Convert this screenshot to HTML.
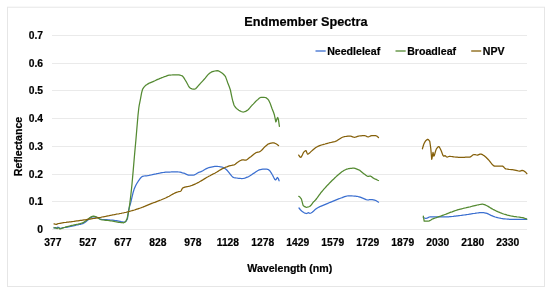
<!DOCTYPE html>
<html><head><meta charset="utf-8"><title>Endmember Spectra</title>
<style>
html,body{margin:0;padding:0;background:#fff;}
svg{display:block;}
text{font-family:"Liberation Sans",Arial,sans-serif;font-weight:bold;fill:#000;stroke:#000;stroke-width:0.2px;}
.t{font-size:10.3px;}
.l{font-size:10.6px;}
.title{font-size:12.7px;}
</style></head><body>
<svg width="550" height="293" viewBox="0 0 550 293">
<rect x="0" y="0" width="550" height="293" fill="#fff"/>
<rect x="7.5" y="7.2" width="537" height="279.3" fill="#fff" stroke="#e6e6e6" stroke-width="1"/>
<line x1="51.5" x2="527" y1="229.5" y2="229.5" stroke="#eaeaea" stroke-width="1" shape-rendering="crispEdges"/>
<line x1="51.5" x2="527" y1="201.5" y2="201.5" stroke="#eaeaea" stroke-width="1" shape-rendering="crispEdges"/>
<line x1="51.5" x2="527" y1="174.5" y2="174.5" stroke="#eaeaea" stroke-width="1" shape-rendering="crispEdges"/>
<line x1="51.5" x2="527" y1="146.5" y2="146.5" stroke="#eaeaea" stroke-width="1" shape-rendering="crispEdges"/>
<line x1="51.5" x2="527" y1="118.5" y2="118.5" stroke="#eaeaea" stroke-width="1" shape-rendering="crispEdges"/>
<line x1="51.5" x2="527" y1="90.5" y2="90.5" stroke="#eaeaea" stroke-width="1" shape-rendering="crispEdges"/>
<line x1="51.5" x2="527" y1="63.5" y2="63.5" stroke="#eaeaea" stroke-width="1" shape-rendering="crispEdges"/>
<line x1="51.5" x2="527" y1="35.5" y2="35.5" stroke="#eaeaea" stroke-width="1" shape-rendering="crispEdges"/>

<path d="M54.0 227.5 L55.2 228.1 L56.0 228.2 L56.4 228.1 L57.6 227.3 L58.0 227.2 L58.8 227.6 L60.0 228.4 L60.0 228.4 L61.2 228.2 L62.0 228.0 L62.4 227.9 L63.6 227.7 L64.8 227.5 L66.0 227.3 L67.2 227.1 L68.4 226.8 L69.6 226.6 L69.6 226.6 L70.8 226.4 L72.0 226.1 L73.2 225.8 L74.4 225.6 L75.6 225.3 L76.0 225.2 L76.8 225.0 L78.0 224.8 L79.2 224.5 L80.4 224.3 L81.6 224.0 L82.7 223.6 L82.8 223.6 L84.0 223.0 L85.2 222.2 L86.4 221.2 L87.6 220.3 L87.6 220.3 L88.8 219.2 L90.0 218.1 L90.5 217.8 L91.2 217.4 L92.4 216.8 L93.4 216.6 L93.6 216.6 L94.8 216.8 L96.0 217.1 L96.5 217.2 L97.2 217.5 L98.4 218.1 L99.6 218.8 L100.7 219.2 L100.8 219.2 L102.0 219.4 L103.2 219.5 L104.4 219.6 L105.0 219.6 L105.6 219.6 L106.8 219.7 L108.0 219.8 L109.2 219.9 L110.4 220.0 L110.6 220.0 L111.6 220.1 L112.8 220.2 L114.0 220.4 L115.2 220.6 L116.4 220.7 L117.6 220.9 L118.8 221.1 L118.8 221.1 L120.0 221.3 L121.2 221.6 L122.4 221.8 L123.6 222.0 L124.5 222.0 L124.8 222.0 L126.0 221.3 L126.3 221.0 L127.2 219.3 L127.6 218.0 L128.4 211.6 L128.5 211.0 L129.6 206.4 L130.7 202.7 L130.8 202.3 L132.0 197.2 L133.2 192.2 L134.0 189.6 L134.4 188.6 L135.6 185.8 L136.8 183.5 L138.0 181.6 L138.1 181.4 L139.2 179.8 L140.4 178.2 L140.8 177.8 L141.6 176.9 L142.3 176.4 L142.8 176.3 L144.0 176.0 L145.2 175.9 L146.4 175.8 L147.6 175.7 L148.0 175.6 L148.8 175.5 L150.0 175.2 L151.2 175.0 L152.4 174.7 L153.6 174.4 L154.8 174.1 L156.0 173.9 L157.2 173.6 L157.8 173.5 L158.4 173.4 L159.6 173.2 L160.8 172.9 L162.0 172.7 L163.2 172.5 L164.4 172.3 L165.6 172.1 L166.8 172.0 L167.6 172.0 L168.0 172.0 L169.2 172.0 L170.4 172.0 L171.6 171.9 L172.8 171.9 L174.0 171.9 L175.2 171.9 L176.4 171.9 L177.5 171.9 L177.6 171.9 L178.8 172.0 L180.0 172.2 L181.2 172.4 L182.4 172.8 L183.6 173.1 L184.0 173.2 L184.8 173.5 L186.0 174.1 L187.2 174.7 L188.4 175.2 L188.9 175.2 L189.6 175.2 L190.8 175.2 L192.0 175.2 L193.0 175.2 L193.2 175.2 L194.4 174.9 L195.6 174.3 L196.8 173.5 L198.0 172.8 L198.8 172.4 L199.2 172.2 L200.4 171.8 L201.6 171.3 L202.0 171.1 L202.8 170.7 L204.0 170.0 L205.2 169.3 L206.4 168.6 L207.6 168.1 L207.9 168.0 L208.8 167.7 L210.0 167.4 L211.2 167.1 L212.4 166.8 L213.6 166.6 L214.8 166.4 L215.8 166.4 L216.0 166.4 L217.2 166.4 L218.4 166.5 L219.6 166.7 L220.8 166.8 L221.8 167.0 L222.0 167.0 L223.2 167.5 L224.4 168.1 L225.6 168.9 L225.7 169.0 L226.8 170.0 L228.0 171.4 L229.2 172.9 L229.7 173.5 L230.4 174.3 L231.6 175.9 L232.8 177.1 L233.6 177.5 L234.0 177.6 L235.2 177.8 L236.4 178.0 L237.6 178.2 L238.8 178.3 L240.0 178.4 L241.2 178.5 L242.4 178.5 L242.5 178.5 L243.6 178.4 L244.8 178.1 L246.0 177.7 L247.2 177.2 L247.5 177.1 L248.4 176.7 L249.6 176.0 L250.8 175.2 L252.0 174.4 L253.2 173.6 L253.4 173.5 L254.4 172.9 L255.6 172.0 L256.8 171.2 L258.0 170.5 L259.2 169.9 L260.3 169.6 L260.4 169.6 L261.6 169.4 L262.8 169.2 L264.0 169.1 L265.2 169.0 L266.3 169.0 L266.4 169.0 L267.6 169.3 L268.8 169.9 L269.2 170.2 L270.0 171.0 L271.2 172.9 L272.2 174.5 L272.4 174.8 L273.6 177.2 L274.8 179.4 L275.6 179.9 L276.0 179.6 L277.2 177.7 L277.5 177.5 L278.4 178.7 L279.1 180.8 M299.0 208.0 L300.2 209.5 L301.4 210.8 L302.0 211.3 L302.6 211.7 L303.8 212.5 L305.0 213.2 L306.2 213.5 L306.4 213.5 L307.4 213.2 L308.6 212.7 L308.6 212.7 L309.7 213.3 L309.8 213.3 L311.0 213.0 L312.2 212.3 L313.4 211.3 L314.6 210.1 L315.8 209.1 L317.0 208.2 L317.3 208.0 L318.2 207.5 L319.4 206.9 L320.6 206.3 L321.8 205.8 L323.0 205.3 L324.2 204.8 L325.4 204.3 L326.6 203.8 L327.8 203.3 L328.3 203.1 L329.0 202.8 L330.2 202.3 L331.4 201.8 L332.6 201.3 L333.8 200.8 L335.0 200.3 L336.2 199.8 L337.4 199.3 L338.6 198.9 L339.2 198.7 L339.8 198.5 L341.0 198.0 L342.2 197.6 L343.4 197.1 L344.6 196.7 L345.8 196.3 L347.0 196.0 L348.2 195.8 L349.1 195.8 L349.4 195.8 L350.6 195.8 L351.8 195.9 L353.0 196.0 L354.2 196.1 L355.4 196.2 L356.6 196.3 L357.3 196.4 L357.8 196.5 L359.0 196.8 L360.2 197.2 L361.4 197.7 L362.6 198.2 L362.7 198.2 L363.8 198.6 L365.0 199.1 L366.2 199.6 L367.4 199.9 L368.2 200.0 L368.6 199.9 L369.8 199.5 L370.0 199.5 L371.0 199.5 L372.2 199.6 L373.4 199.8 L374.6 200.1 L375.8 200.5 L377.0 201.2 L378.2 202.0 L378.5 202.2 M423.3 217.5 L424.5 218.0 L425.7 218.3 L425.9 218.3 L426.9 218.1 L428.1 217.6 L429.3 217.0 L430.3 216.8 L430.5 216.8 L431.7 216.8 L432.9 216.8 L434.1 216.8 L435.3 216.8 L436.5 216.8 L436.8 216.8 L437.7 216.8 L438.9 216.8 L440.1 216.8 L441.3 216.8 L442.5 216.8 L443.7 216.8 L444.9 216.8 L446.1 216.8 L447.3 216.8 L447.7 216.8 L448.5 216.8 L449.7 216.7 L450.9 216.6 L452.1 216.5 L453.3 216.4 L454.5 216.2 L455.7 216.1 L456.9 215.9 L458.1 215.8 L458.6 215.7 L459.3 215.6 L460.5 215.5 L461.7 215.3 L462.9 215.1 L464.1 215.0 L465.3 214.8 L466.5 214.6 L467.7 214.5 L468.9 214.3 L469.5 214.2 L470.1 214.1 L471.3 213.9 L472.5 213.7 L473.7 213.5 L474.9 213.4 L476.1 213.2 L477.3 213.0 L478.3 212.9 L478.5 212.9 L479.7 212.7 L480.9 212.6 L482.1 212.5 L482.6 212.5 L483.3 212.5 L484.5 212.8 L485.7 213.1 L485.9 213.1 L486.9 213.4 L488.1 213.9 L489.3 214.5 L490.5 215.1 L491.7 215.7 L492.9 216.2 L493.5 216.4 L494.1 216.6 L495.3 217.0 L496.5 217.3 L497.7 217.7 L498.9 218.0 L500.1 218.2 L501.3 218.5 L502.3 218.6 L502.5 218.6 L503.7 218.8 L504.9 218.9 L506.1 219.0 L507.3 219.1 L508.5 219.2 L509.7 219.3 L510.9 219.4 L512.1 219.4 L513.2 219.4 L513.3 219.4 L514.5 219.4 L515.7 219.4 L516.9 219.4 L518.1 219.4 L519.3 219.4 L520.5 219.4 L521.7 219.4 L522.9 219.4 L524.1 219.4 L525.3 219.4 L526.5 219.4 L526.7 219.4" fill="none" stroke="#3b6fd0" stroke-width="1.25" stroke-linejoin="round" stroke-linecap="round"/>
<path d="M54.0 228.0 L55.2 227.6 L55.5 227.6 L56.4 228.2 L57.0 228.6 L57.6 228.3 L58.5 227.8 L58.8 227.9 L60.0 229.0 L60.0 229.0 L61.2 228.6 L61.4 228.5 L62.4 228.1 L63.6 227.6 L64.0 227.5 L64.8 227.3 L66.0 226.9 L67.2 226.6 L68.4 226.3 L69.6 226.0 L69.6 226.0 L70.8 225.7 L72.0 225.4 L73.2 225.2 L74.4 224.9 L75.6 224.6 L76.0 224.5 L76.8 224.3 L78.0 224.1 L79.2 223.8 L80.4 223.5 L81.6 223.2 L82.7 222.8 L82.8 222.8 L84.0 222.1 L85.2 221.3 L86.4 220.4 L87.6 219.5 L87.6 219.5 L88.8 218.5 L90.0 217.6 L90.5 217.3 L91.2 216.9 L92.4 216.4 L93.4 216.2 L93.6 216.2 L94.8 216.4 L96.0 216.8 L96.5 217.0 L97.2 217.3 L98.4 218.2 L99.6 219.0 L100.7 219.5 L100.8 219.5 L102.0 219.8 L103.2 220.0 L104.4 220.1 L105.0 220.2 L105.6 220.3 L106.8 220.4 L108.0 220.5 L109.2 220.6 L110.4 220.8 L110.6 220.8 L111.6 221.0 L112.8 221.2 L114.0 221.4 L115.2 221.7 L116.4 221.9 L117.6 222.1 L118.8 222.3 L118.8 222.3 L120.0 222.5 L121.2 222.6 L122.4 222.7 L123.6 222.8 L123.7 222.8 L124.8 222.2 L125.5 221.5 L126.0 220.8 L127.0 218.7 L127.2 218.1 L128.4 212.6 L128.7 211.0 L129.6 205.0 L129.6 205.0 L130.8 195.3 L131.6 188.0 L132.0 184.0 L133.2 170.6 L134.4 156.5 L134.8 152.0 L135.6 143.3 L135.9 140.0 L136.8 129.3 L138.0 115.2 L138.8 108.0 L139.2 105.4 L140.4 99.3 L140.4 99.3 L141.6 92.8 L142.5 89.5 L142.8 88.9 L144.0 87.1 L145.2 85.8 L146.1 85.1 L146.4 84.9 L147.6 84.1 L148.8 83.4 L150.0 82.8 L151.2 82.3 L152.4 81.8 L153.6 81.3 L154.3 81.0 L154.8 80.8 L156.0 80.2 L157.2 79.7 L158.4 79.2 L159.6 78.6 L160.8 78.2 L162.0 77.7 L162.5 77.5 L163.2 77.2 L164.4 76.7 L165.6 76.3 L166.8 75.8 L168.0 75.4 L169.2 75.2 L169.9 75.1 L170.4 75.1 L171.6 75.0 L172.8 74.9 L174.0 74.9 L175.2 74.8 L176.4 74.8 L177.3 74.8 L177.6 74.8 L178.8 74.9 L180.0 75.2 L181.2 75.5 L182.2 75.9 L182.4 76.0 L183.6 77.4 L184.8 79.4 L185.5 80.5 L186.0 81.3 L187.2 83.5 L188.4 85.8 L189.6 87.6 L190.4 88.2 L190.8 88.4 L192.0 88.8 L193.2 89.1 L194.4 89.2 L194.5 89.2 L195.6 88.7 L196.8 87.5 L198.0 86.1 L198.6 85.4 L199.2 84.8 L200.4 83.4 L201.6 82.1 L201.6 82.1 L202.8 80.8 L204.0 79.5 L205.0 78.4 L205.2 78.2 L206.4 76.7 L207.6 75.2 L208.8 73.9 L209.8 73.1 L210.0 73.0 L211.2 72.2 L212.4 71.7 L213.5 71.3 L213.6 71.3 L214.8 71.0 L216.0 70.8 L217.1 70.7 L217.2 70.7 L218.4 70.9 L219.6 71.5 L220.8 72.3 L222.0 73.1 L222.0 73.1 L223.2 74.0 L224.4 75.2 L225.3 76.4 L225.6 76.9 L226.8 80.1 L227.8 83.0 L228.0 83.5 L229.2 86.5 L230.4 90.0 L230.4 90.0 L231.6 95.8 L232.3 99.1 L232.8 101.0 L234.0 105.0 L234.3 105.6 L235.2 107.0 L236.4 108.4 L236.9 108.8 L237.6 109.3 L238.8 110.2 L240.0 110.9 L241.2 111.5 L242.4 111.9 L243.3 112.0 L243.6 112.0 L244.8 111.7 L246.0 111.1 L247.2 110.4 L247.2 110.4 L248.4 109.5 L249.6 108.2 L250.8 106.7 L252.0 105.3 L252.4 104.9 L253.2 104.1 L254.4 102.8 L255.6 101.5 L256.8 100.4 L257.6 99.7 L258.0 99.4 L259.2 98.3 L260.4 97.5 L260.9 97.4 L261.6 97.4 L262.8 97.4 L264.0 97.4 L265.2 97.5 L265.4 97.5 L266.4 97.9 L267.6 98.9 L268.6 100.1 L268.8 100.4 L270.0 102.9 L271.2 106.3 L271.9 108.2 L272.4 109.4 L273.6 112.5 L274.5 115.3 L274.8 116.8 L275.8 121.8 L276.0 121.7 L277.2 118.2 L277.7 117.5 L278.4 119.3 L279.4 126.3 M298.7 196.3 L299.9 197.0 L301.1 198.6 L301.5 199.3 L302.3 202.4 L303.1 205.3 L303.5 205.7 L304.7 206.7 L305.9 207.2 L306.4 207.3 L307.1 207.2 L308.3 207.0 L309.5 206.5 L309.7 206.4 L310.7 205.6 L311.9 204.0 L313.1 202.4 L313.6 201.8 L314.3 201.2 L315.1 200.4 L315.5 200.0 L316.7 198.5 L317.9 196.8 L319.1 195.1 L320.3 193.5 L320.9 192.7 L321.5 192.0 L322.7 190.6 L323.9 189.2 L325.1 187.8 L326.3 186.5 L327.5 185.2 L328.2 184.5 L328.7 184.0 L329.9 182.7 L331.1 181.5 L332.3 180.3 L333.5 179.2 L334.7 178.0 L335.5 177.3 L335.9 176.9 L337.1 175.8 L338.3 174.7 L339.5 173.7 L340.7 172.7 L341.9 171.8 L342.7 171.3 L343.1 171.1 L344.3 170.3 L345.5 169.7 L346.7 169.1 L347.9 168.8 L348.2 168.7 L349.1 168.6 L350.3 168.4 L351.5 168.3 L352.7 168.2 L353.6 168.2 L353.9 168.2 L355.1 168.4 L356.3 168.8 L357.5 169.3 L358.7 169.8 L359.1 170.0 L359.9 170.4 L361.1 171.4 L362.3 172.4 L363.5 173.4 L364.5 174.2 L364.7 174.3 L365.9 175.3 L367.1 176.1 L368.2 176.4 L368.3 176.4 L369.5 176.1 L370.0 176.0 L370.7 176.2 L371.9 176.9 L373.1 177.9 L373.6 178.2 L374.3 178.6 L375.5 179.2 L376.7 179.7 L377.9 180.3 L378.5 180.5 M423.3 216.2 L424.2 221.2 L424.5 221.2 L425.7 221.2 L426.9 221.2 L428.1 221.2 L428.1 221.2 L429.3 220.9 L430.5 220.2 L431.7 219.4 L432.5 219.0 L432.9 218.8 L434.1 218.4 L435.3 218.0 L436.5 217.6 L436.8 217.5 L437.7 217.2 L438.9 216.7 L440.1 216.3 L441.3 215.9 L442.5 215.4 L443.4 215.1 L443.7 215.0 L444.9 214.5 L446.1 214.1 L447.3 213.6 L448.5 213.2 L449.7 212.7 L450.9 212.2 L452.1 211.8 L453.3 211.3 L454.5 210.9 L455.7 210.5 L456.9 210.1 L458.1 209.7 L458.6 209.6 L459.3 209.4 L460.5 209.1 L461.7 208.8 L462.9 208.5 L464.1 208.2 L465.3 208.0 L466.5 207.7 L467.7 207.4 L468.9 207.1 L469.5 207.0 L470.1 206.9 L471.3 206.5 L472.5 206.2 L473.7 205.9 L474.9 205.6 L476.1 205.3 L477.3 205.0 L478.3 204.8 L478.5 204.8 L479.7 204.5 L480.9 204.3 L482.1 204.2 L482.6 204.2 L483.3 204.3 L484.5 204.7 L485.7 205.2 L485.9 205.3 L486.9 205.8 L488.1 206.4 L489.3 207.1 L490.5 207.9 L491.7 208.6 L492.9 209.3 L493.5 209.6 L494.1 209.9 L495.3 210.5 L496.5 211.1 L497.7 211.6 L498.9 212.2 L500.1 212.7 L501.3 213.1 L502.3 213.5 L502.5 213.6 L503.7 214.0 L504.9 214.3 L506.1 214.7 L507.3 215.1 L508.5 215.4 L509.7 215.7 L510.9 216.0 L512.1 216.2 L513.2 216.4 L513.3 216.4 L514.5 216.6 L515.7 216.7 L516.9 216.9 L518.1 217.0 L519.3 217.1 L520.5 217.3 L521.7 217.5 L521.9 217.5 L522.9 217.7 L524.1 218.1 L525.3 218.5 L526.5 218.9 L526.7 219.0" fill="none" stroke="#548a32" stroke-width="1.25" stroke-linejoin="round" stroke-linecap="round"/>
<path d="M54.0 223.9 L55.2 224.2 L56.0 224.3 L56.4 224.3 L57.6 223.8 L58.0 223.7 L58.8 223.5 L60.0 223.3 L61.2 223.1 L62.4 222.9 L63.6 222.7 L64.8 222.5 L66.0 222.4 L67.2 222.2 L68.4 222.1 L69.6 221.9 L70.8 221.8 L72.0 221.6 L73.2 221.5 L74.4 221.3 L75.0 221.2 L75.6 221.1 L76.8 220.9 L78.0 220.8 L79.2 220.6 L80.4 220.4 L81.6 220.3 L82.8 220.1 L84.0 219.9 L85.2 219.8 L86.4 219.6 L87.6 219.4 L88.8 219.2 L90.0 219.1 L91.2 218.9 L92.4 218.7 L93.6 218.5 L94.2 218.4 L94.8 218.3 L96.0 218.1 L97.2 217.9 L98.4 217.7 L99.6 217.5 L100.8 217.3 L102.0 217.0 L103.2 216.8 L104.4 216.6 L105.6 216.4 L106.8 216.1 L108.0 215.9 L109.2 215.7 L110.4 215.4 L111.6 215.2 L112.8 214.9 L114.0 214.7 L115.0 214.5 L115.2 214.5 L116.4 214.2 L117.6 214.0 L118.8 213.8 L120.0 213.5 L121.2 213.3 L122.4 213.0 L123.6 212.8 L124.8 212.5 L126.0 212.3 L127.2 212.0 L128.3 211.7 L128.4 211.7 L129.6 211.4 L130.8 211.0 L132.0 210.7 L133.2 210.3 L134.4 210.0 L135.6 209.6 L136.8 209.2 L138.0 208.8 L139.2 208.4 L140.4 208.0 L141.4 207.6 L141.6 207.5 L142.8 207.1 L144.0 206.6 L145.2 206.2 L146.4 205.7 L147.6 205.2 L148.8 204.7 L150.0 204.2 L151.2 203.7 L152.4 203.2 L152.9 203.0 L153.6 202.7 L154.8 202.3 L156.0 201.8 L157.2 201.3 L158.4 200.9 L159.6 200.4 L160.8 200.0 L162.0 199.5 L163.2 199.0 L164.4 198.5 L165.6 198.0 L166.0 197.8 L166.8 197.4 L168.0 196.8 L169.2 196.2 L170.4 195.5 L171.6 194.8 L172.8 194.1 L174.0 193.5 L175.2 192.9 L176.4 192.4 L177.5 192.0 L177.6 192.0 L178.8 191.7 L180.0 191.5 L180.7 191.2 L181.2 190.6 L182.4 188.3 L182.7 188.0 L183.6 187.6 L184.8 187.1 L186.0 186.8 L187.2 186.6 L188.4 186.4 L189.6 186.1 L190.6 185.8 L190.8 185.7 L192.0 185.3 L193.2 184.8 L194.4 184.3 L195.6 183.8 L196.8 183.2 L198.0 182.6 L198.8 182.2 L199.2 182.0 L200.4 181.3 L201.6 180.6 L202.8 179.9 L204.0 179.1 L205.2 178.4 L206.4 177.6 L207.0 177.3 L207.6 177.0 L208.8 176.3 L210.0 175.7 L211.2 175.0 L212.4 174.4 L213.6 173.8 L214.8 173.2 L216.0 172.5 L216.9 172.0 L217.2 171.8 L218.4 171.1 L219.6 170.3 L220.8 169.6 L222.0 168.9 L222.8 168.5 L223.2 168.3 L224.4 167.8 L225.6 167.2 L226.8 166.8 L228.0 166.3 L229.2 165.9 L229.3 165.9 L230.4 165.6 L231.6 165.4 L232.8 165.1 L234.0 164.8 L234.5 164.6 L235.2 164.2 L236.4 163.2 L237.6 162.3 L237.7 162.2 L238.8 161.5 L240.0 160.8 L241.2 160.2 L242.4 159.8 L242.9 159.8 L243.6 159.9 L244.8 160.1 L245.5 160.2 L246.0 160.1 L247.2 159.5 L248.4 158.6 L249.6 157.6 L250.0 157.3 L250.8 156.7 L252.0 155.7 L253.2 154.7 L254.4 153.7 L255.6 152.9 L256.5 152.5 L256.8 152.4 L258.0 152.1 L259.2 151.8 L259.7 151.6 L260.4 151.2 L261.0 150.8 L261.6 150.3 L262.8 149.0 L264.0 147.6 L264.9 146.7 L265.2 146.4 L266.4 145.4 L267.6 144.4 L268.8 143.8 L268.8 143.8 L270.0 143.4 L271.2 143.1 L272.4 142.9 L273.4 142.8 L273.6 142.8 L274.8 143.2 L276.0 143.8 L276.0 143.8 L277.2 144.5 L278.4 145.4 L278.6 145.6 M298.7 155.1 L299.9 156.9 L300.9 157.3 L301.1 157.2 L302.3 155.1 L303.5 152.5 L303.6 152.4 L304.7 151.2 L305.9 150.5 L306.0 150.5 L307.1 153.3 L307.6 154.2 L308.3 154.0 L309.5 153.1 L310.7 151.9 L311.8 150.9 L311.9 150.8 L313.1 149.8 L314.3 148.8 L315.5 147.8 L316.7 147.0 L317.3 146.7 L317.9 146.4 L319.1 145.9 L320.3 145.4 L321.5 145.0 L322.7 144.7 L323.9 144.3 L325.1 144.0 L326.3 143.6 L326.4 143.6 L327.5 143.3 L328.7 143.0 L329.9 142.7 L331.1 142.5 L332.3 142.2 L333.5 141.9 L334.7 141.6 L335.5 141.3 L335.9 141.1 L337.1 140.6 L338.3 139.8 L339.5 139.0 L340.7 138.2 L341.9 137.5 L343.1 137.0 L343.6 136.9 L344.3 136.7 L345.5 136.5 L346.7 136.3 L347.9 136.1 L349.1 136.0 L350.0 136.0 L350.3 136.0 L351.5 136.3 L352.7 136.8 L353.9 137.2 L354.5 137.3 L355.1 137.2 L356.3 136.9 L357.5 136.4 L358.7 136.1 L359.1 136.0 L359.9 135.9 L361.1 135.8 L362.3 135.7 L363.5 135.6 L364.5 135.6 L364.7 135.6 L365.9 136.0 L367.1 136.6 L368.2 136.9 L368.3 136.9 L369.5 136.5 L370.7 135.9 L371.8 135.6 L371.9 135.6 L373.1 135.6 L374.3 135.6 L375.5 135.6 L375.5 135.6 L376.7 136.0 L377.9 137.0 L378.5 137.5 M422.4 148.8 L423.6 144.7 L424.3 143.1 L424.8 142.2 L426.0 140.4 L427.2 139.4 L427.6 139.3 L428.4 139.6 L429.6 141.1 L429.8 141.5 L430.8 148.6 L430.8 148.6 L431.7 159.3 L432.0 158.4 L433.0 152.4 L433.2 153.0 L433.8 156.2 L434.4 155.3 L435.6 151.0 L436.3 149.1 L436.8 148.4 L438.0 146.9 L438.8 146.6 L439.2 146.8 L440.4 149.0 L441.2 150.8 L441.6 151.7 L442.8 155.1 L443.6 156.2 L444.0 156.1 L445.0 155.7 L445.2 155.7 L446.4 156.7 L447.2 157.1 L447.6 157.0 L448.8 156.5 L449.4 156.4 L450.0 156.4 L451.2 156.5 L452.4 156.6 L453.6 156.8 L454.8 157.0 L456.0 157.1 L457.2 157.2 L458.4 157.3 L458.7 157.3 L459.6 157.3 L460.8 157.3 L462.0 157.3 L463.2 157.3 L464.4 157.3 L465.6 157.2 L466.8 157.2 L468.0 157.2 L469.2 157.1 L469.6 157.1 L470.4 156.9 L471.6 156.0 L472.8 155.0 L474.0 154.5 L474.0 154.5 L475.2 154.7 L476.4 155.0 L477.3 155.1 L477.6 155.1 L478.8 154.6 L480.0 154.1 L480.6 154.0 L481.2 154.1 L482.4 154.6 L483.6 155.4 L483.9 155.6 L484.8 156.3 L486.0 157.3 L487.2 158.5 L488.2 159.5 L488.4 159.7 L489.6 161.1 L490.8 162.7 L492.0 164.2 L493.2 165.4 L494.4 166.1 L494.8 166.1 L495.6 166.1 L496.8 166.1 L498.0 166.1 L499.2 166.1 L500.4 166.1 L501.6 166.1 L502.4 166.1 L502.8 166.2 L504.0 167.3 L505.2 168.6 L505.7 168.9 L506.4 169.0 L507.6 169.2 L508.8 169.4 L510.0 169.5 L511.2 169.6 L512.4 169.7 L513.4 169.8 L513.6 169.8 L514.8 170.1 L516.0 170.4 L517.2 170.7 L518.4 171.0 L519.6 171.1 L519.9 171.1 L520.8 170.8 L522.0 170.4 L522.1 170.4 L523.2 170.6 L524.4 171.2 L525.6 172.2 L526.8 173.6 L526.9 173.7" fill="none" stroke="#85600a" stroke-width="1.25" stroke-linejoin="round" stroke-linecap="round"/>

<text x="305.9" y="25.5" text-anchor="middle" class="title">Endmember Spectra</text>
<line x1="315.5" x2="325.7" y1="51" y2="51" stroke="#3b6fd0" stroke-width="1.3"/>
<text x="327.2" y="54.7" class="l">Needleleaf</text>
<line x1="395.5" x2="405.7" y1="51" y2="51" stroke="#548a32" stroke-width="1.3"/>
<text x="407.2" y="54.7" class="l">Broadleaf</text>
<line x1="471.2" x2="481.2" y1="51" y2="51" stroke="#85600a" stroke-width="1.3"/>
<text x="482.8" y="54.7" class="l">NPV</text>
<text x="43" y="233.0" text-anchor="end" class="t">0</text>
<text x="43" y="205.3" text-anchor="end" class="t">0.1</text>
<text x="43" y="177.6" text-anchor="end" class="t">0.2</text>
<text x="43" y="149.9" text-anchor="end" class="t">0.3</text>
<text x="43" y="122.1" text-anchor="end" class="t">0.4</text>
<text x="43" y="94.4" text-anchor="end" class="t">0.5</text>
<text x="43" y="66.7" text-anchor="end" class="t">0.6</text>
<text x="43" y="39.0" text-anchor="end" class="t">0.7</text>

<text x="52.9" y="245.8" text-anchor="middle" class="t">377</text>
<text x="87.9" y="245.8" text-anchor="middle" class="t">527</text>
<text x="122.9" y="245.8" text-anchor="middle" class="t">677</text>
<text x="157.9" y="245.8" text-anchor="middle" class="t">828</text>
<text x="192.9" y="245.8" text-anchor="middle" class="t">978</text>
<text x="227.9" y="245.8" text-anchor="middle" class="t">1128</text>
<text x="262.8" y="245.8" text-anchor="middle" class="t">1278</text>
<text x="297.8" y="245.8" text-anchor="middle" class="t">1429</text>
<text x="332.8" y="245.8" text-anchor="middle" class="t">1579</text>
<text x="367.8" y="245.8" text-anchor="middle" class="t">1729</text>
<text x="402.8" y="245.8" text-anchor="middle" class="t">1879</text>
<text x="437.8" y="245.8" text-anchor="middle" class="t">2030</text>
<text x="472.8" y="245.8" text-anchor="middle" class="t">2180</text>
<text x="507.8" y="245.8" text-anchor="middle" class="t">2330</text>

<text x="289.8" y="272" text-anchor="middle" class="l">Wavelength (nm)</text>
<text transform="translate(22,146.5) rotate(-90)" text-anchor="middle" class="l">Reflectance</text>
</svg>
</body></html>
